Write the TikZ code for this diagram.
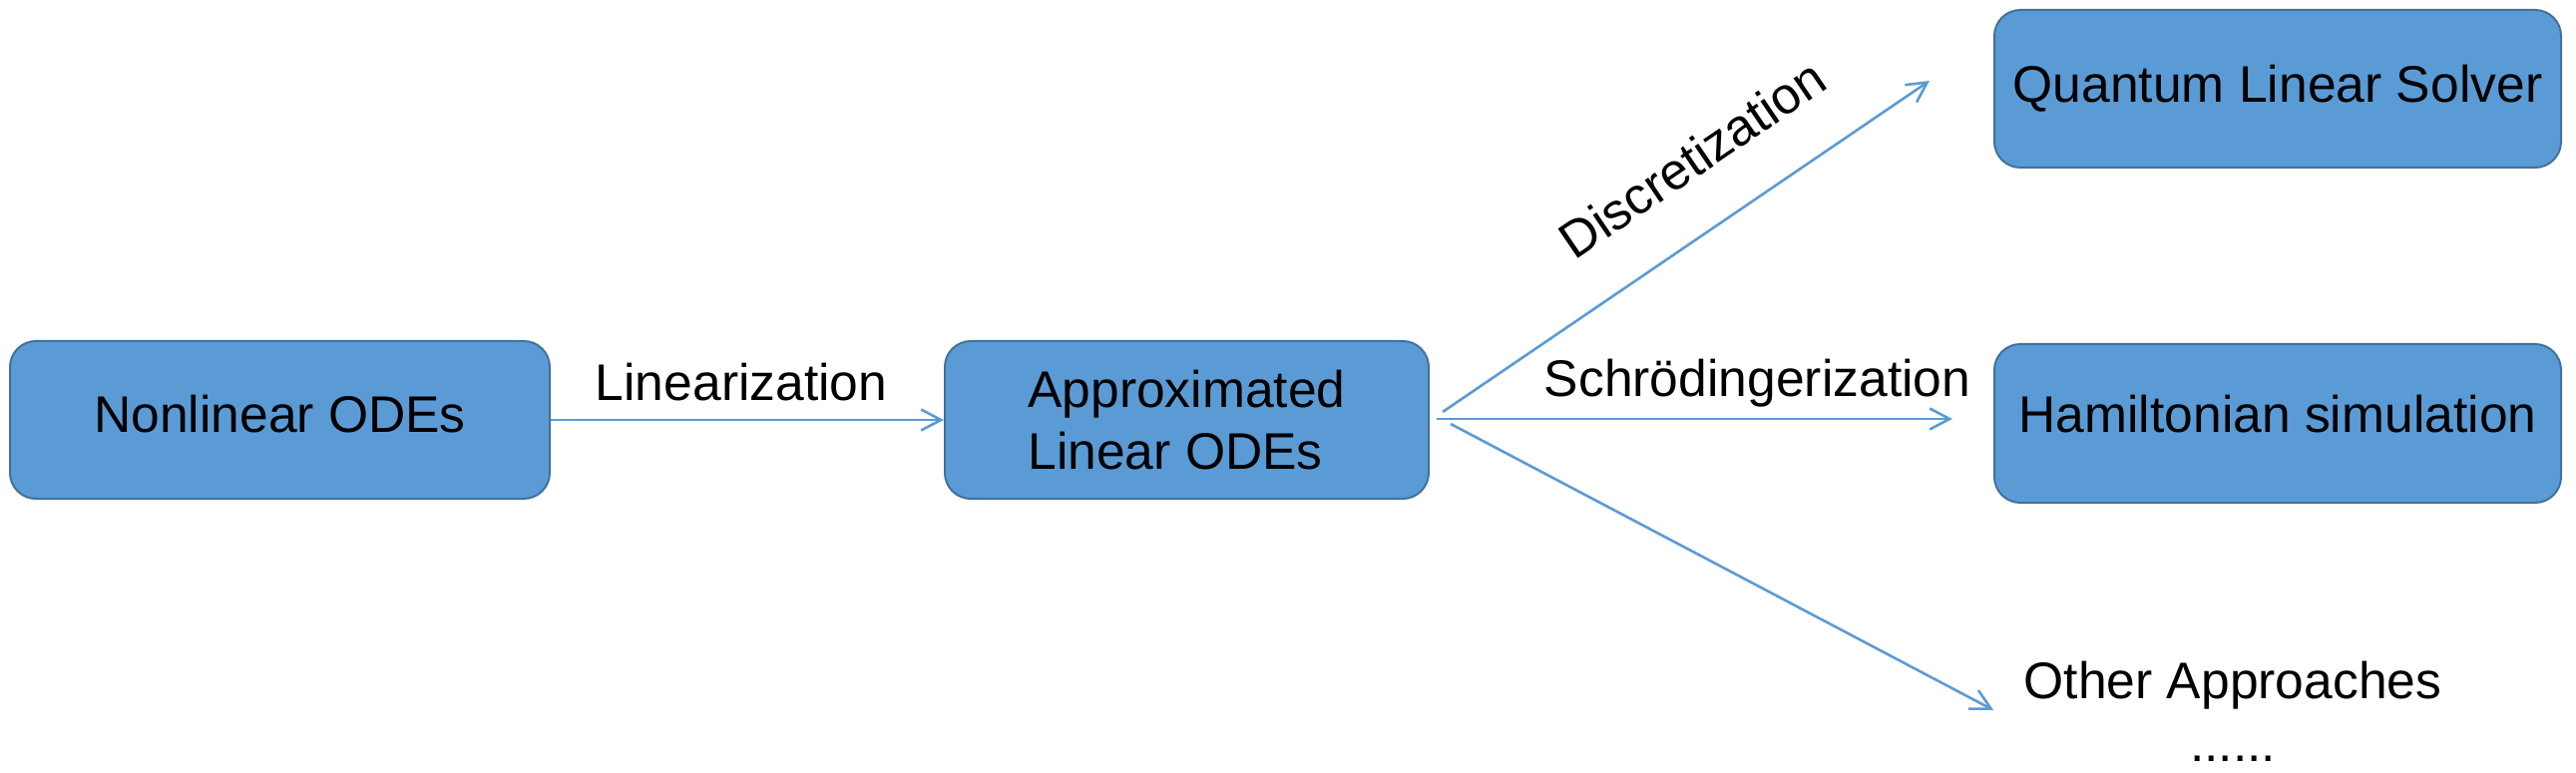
\documentclass[tikz,border=0pt]{standalone}
\usepackage{fontspec}
\setmainfont{Liberation Sans}
\usetikzlibrary{arrows.meta,calc}
\definecolor{boxfill}{HTML}{5B9BD5}
\definecolor{boxline}{HTML}{41719C}
\definecolor{arrowc}{HTML}{5B9BD5}
\begin{document}
\begin{tikzpicture}[x=0.5pt,y=-0.5pt,
  every node/.style={font=\fontsize{25.8}{31}\selectfont, inner sep=0pt},
  boxbase/.style={draw=boxline, fill=boxfill, line width=1pt, rounded corners=13pt, minimum height=79pt},
  box/.style={boxbase, text height=19.4pt, text depth=6.5pt},
  boxhigh/.style={boxbase, text height=19.4pt, text depth=10.8pt},
  conn/.style={draw=arrowc, line width=1.3pt, -{Straight Barb[length=10pt,width=10.5pt]}},
  lbl/.style={anchor=base, yshift=11pt}]
\useasboundingbox (0,0) rectangle (2582,775);

\node[box, minimum width=270.5pt] (n1) at (280.5,421) {Nonlinear ODEs};
\node[boxbase, minimum width=242.5pt, align=left] (n2) at (1189.5,421) {\raisebox{-3pt}{Approximated}\\\raisebox{-3pt}{Linear ODEs}};
\node[boxbase, minimum width=284pt] (qls) at (2283,89) {Quantum Linear Solver};
\node[boxhigh, minimum width=284pt, minimum height=79.5pt] (ham) at (2283,424.5) {Hamiltonian simulation};
\node[anchor=base] (oth) at (2238,700) {Other Approaches};
\node[anchor=base] (dots) at (2238,763) {......};

\draw[conn] (n1.east) -- node[lbl, pos=0.485, yshift=-1pt] {Linearization} (n2.west);
\draw[conn] ($(n2.east)+(13,-8)$) -- node[sloped, above=24.5pt, pos=0.592] {Discretization} ($(qls.west)+(-64,-8)$);
\draw[conn] ($(n2.east)+(7,-1)$) -- node[lbl, pos=0.622] {Schrödingerization} ($(ham.west)+(-41,-4.5)$);
\draw[conn] ($(n2.east)+(21,4)$) -- ($(oth.base west)+(-30,12)$);
\end{tikzpicture}
\end{document}
